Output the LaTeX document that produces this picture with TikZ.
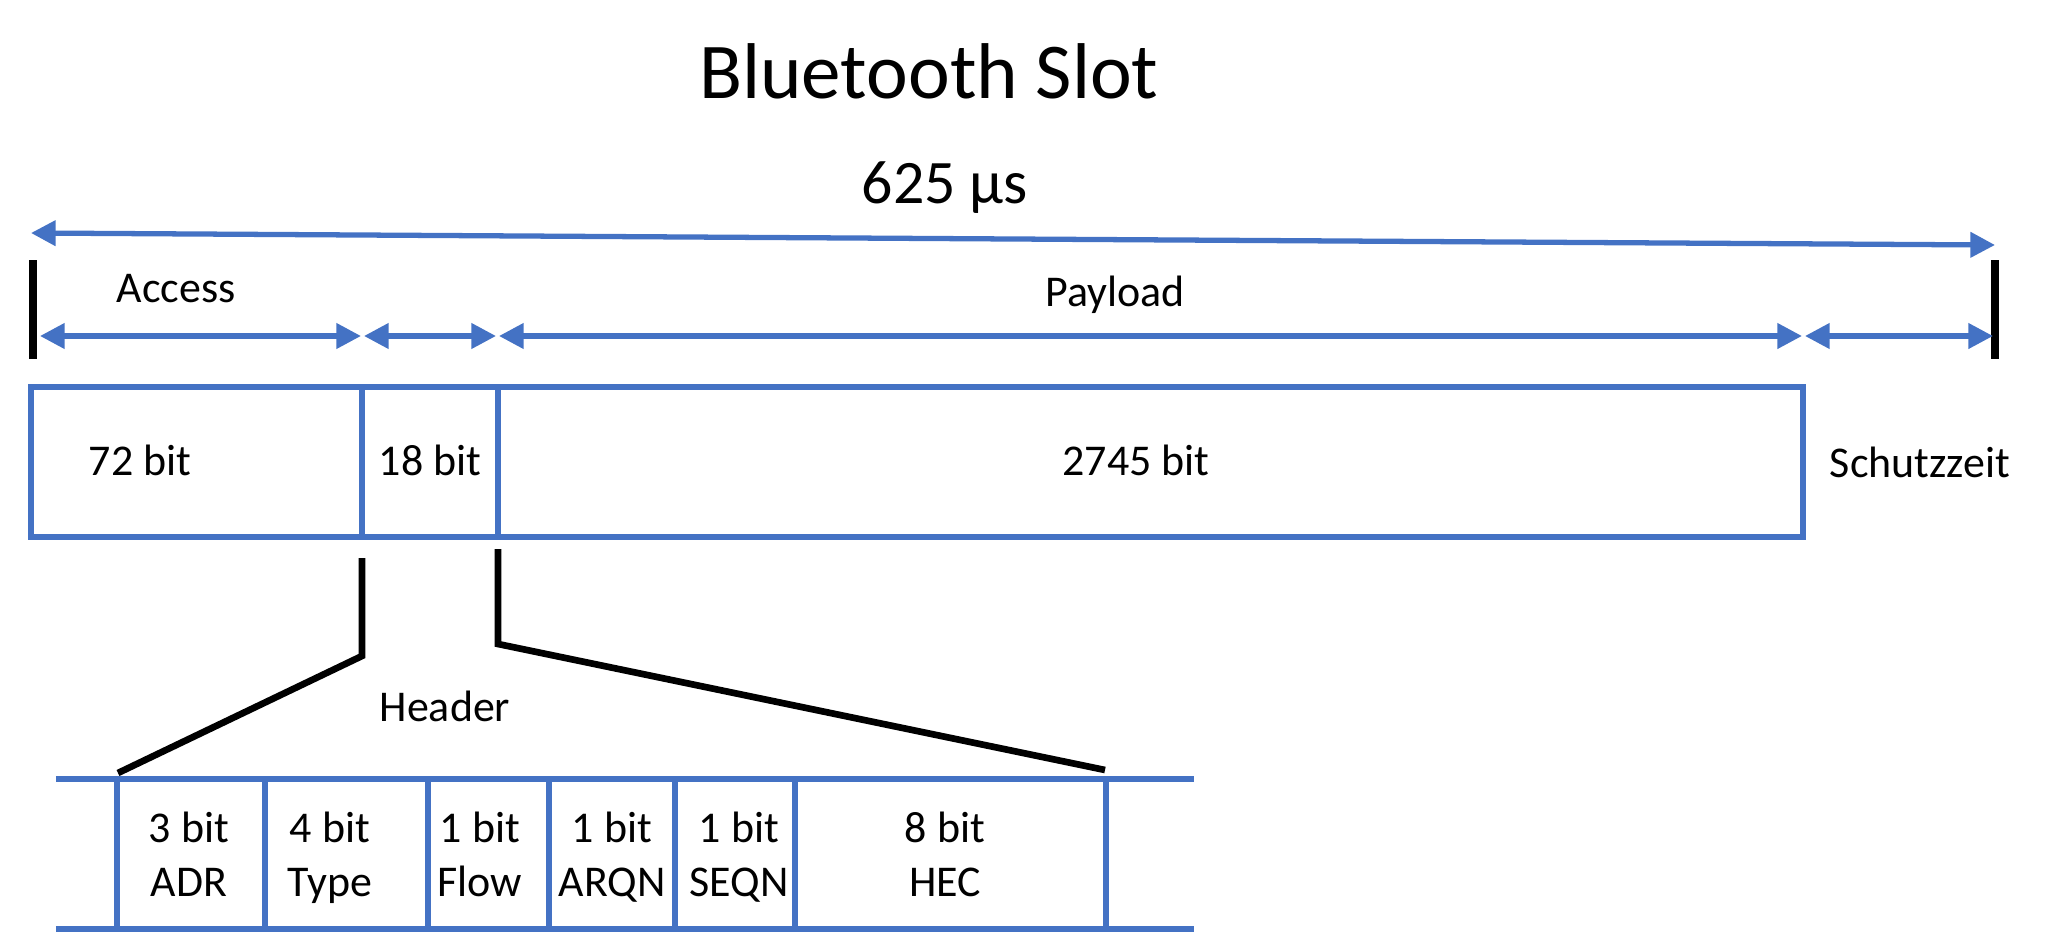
\documentclass[tikz,border=0pt]{standalone}
\usepackage{fontspec}
\setmainfont{Carlito}
\usepackage{tikz}
\usetikzlibrary{arrows.meta}
\definecolor{slotblue}{HTML}{4472C4}

\tikzset{
  dimarrow/.style={draw=slotblue, line width=1.5pt,
    {Triangle[length=7pt,width=7pt]}-{Triangle[length=7pt,width=7pt]}},
  frame/.style={draw=slotblue, line width=1.55pt},
  tick/.style={draw=black, line width=2pt},
  zoomline/.style={draw=black, line width=1.9pt},
  lbl/.style={anchor=base, inner sep=0pt, font=\fontsize{12.5}{15}\selectfont}
}

\begin{document}
\begin{tikzpicture}
  \useasboundingbox (0,0) rectangle (20.48,9.40);
  \node[anchor=base, font=\fontsize{22.5}{27}\selectfont] (title) at (9.29,8.41) {Bluetooth Slot};
  \node[anchor=base, font=\fontsize{17.6}{21}\selectfont] (dur) at (9.45,7.37) {625 µs};
  %%
  \begin{scope}
    \coordinate (slotL) at (0.31,7.07);
    \coordinate (slotR) at (19.95,6.95);
    \coordinate (tickLt) at (0.33,6.80);
    \coordinate (tickLb) at (0.33,5.81);
    \coordinate (tickRt) at (19.95,6.80);
    \coordinate (tickRb) at (19.95,5.81);
    \path[dimarrow] (slotL) -- (slotR);
    \path[tick] (tickLt) -- (tickLb);
    \path[tick] (tickRt) -- (tickRb);
    % field lengths
    \coordinate (accL) at (0.40,6.04);
    \coordinate (accR) at (3.61,6.04);
    \coordinate (hdrL) at (3.64,6.04);
    \coordinate (hdrR) at (4.96,6.04);
    \coordinate (payL) at (4.99,6.04);
    \coordinate (payR) at (18.02,6.04);
    \coordinate (guardL) at (18.05,6.04);
    \coordinate (guardR) at (19.93,6.04);
    \path[dimarrow] (accL) -- (accR);
    \path[dimarrow] (hdrL) -- (hdrR);
    \path[dimarrow] (payL) -- (payR);
    \path[dimarrow] (guardL) -- (guardR);
    \node[lbl] (access) at (1.76,6.38) {Access};
    \node[lbl] (payload) at (11.15,6.34) {Payload};
  \end{scope}
  %%
  \begin{scope}
    \draw[frame] (0.31,5.53) rectangle (18.03,4.03);
    \draw[frame] (3.62,5.53) -- (3.62,4.03);
    \draw[frame] (4.98,5.53) -- (4.98,4.03);
    \node[lbl] (acc) at (1.40,4.65) {72 bit};
    \node[lbl] (hdr) at (4.30,4.65) {18 bit};
    \node[lbl] (pay) at (11.36,4.65) {2745 bit};
    \node[lbl] (guard) at (19.20,4.63) {Schutzzeit};
  \end{scope}
  %%
  \begin{scope}
    \coordinate (zoomLt) at (3.62,3.82);
    \coordinate (zoomLm) at (3.62,2.84);
    \coordinate (zoomLb) at (1.18,1.67);
    \coordinate (zoomRt) at (4.98,3.91);
    \coordinate (zoomRm) at (4.98,2.96);
    \coordinate (zoomRb) at (11.05,1.70);
    \path[zoomline] (zoomLt) -- (zoomLm) -- (zoomLb);
    \path[zoomline] (zoomRt) -- (zoomRm) -- (zoomRb);
    \node[lbl] (header) at (4.45,2.19) {Header};
  \end{scope}
  %%
  \begin{scope}
    \draw[frame] (0.56,1.61) -- (11.94,1.61);
    \draw[frame] (0.56,0.11) -- (11.94,0.11);
    \draw[frame] (1.17,1.61) -- (1.17,0.11);
    \draw[frame] (2.65,1.61) -- (2.65,0.11);
    \draw[frame] (4.28,1.61) -- (4.28,0.11);
    \draw[frame] (5.49,1.61) -- (5.49,0.11);
    \draw[frame] (6.75,1.61) -- (6.75,0.11);
    \draw[frame] (7.95,1.61) -- (7.95,0.11);
    \draw[frame] (11.06,1.61) -- (11.06,0.11);
    \node[lbl] (adrbits) at (1.89,0.98) {3 bit};
    \node[lbl] (adr) at (1.89,0.44) {ADR};
    \node[lbl] (typebits) at (3.30,0.98) {4 bit};
    \node[lbl] (type) at (3.30,0.44) {Type};
    \node[lbl] (flowbits) at (4.80,0.98) {1 bit};
    \node[lbl] (flow) at (4.80,0.44) {Flow};
    \node[lbl] (arqnbits) at (6.12,0.98) {1 bit};
    \node[lbl] (arqn) at (6.12,0.44) {ARQN};
    \node[lbl] (seqnbits) at (7.39,0.98) {1 bit};
    \node[lbl] (seqn) at (7.39,0.44) {SEQN};
    \node[lbl] (hecbits) at (9.45,0.98) {8 bit};
    \node[lbl] (hec) at (9.45,0.44) {HEC};
  \end{scope}
\end{tikzpicture}
\end{document}
